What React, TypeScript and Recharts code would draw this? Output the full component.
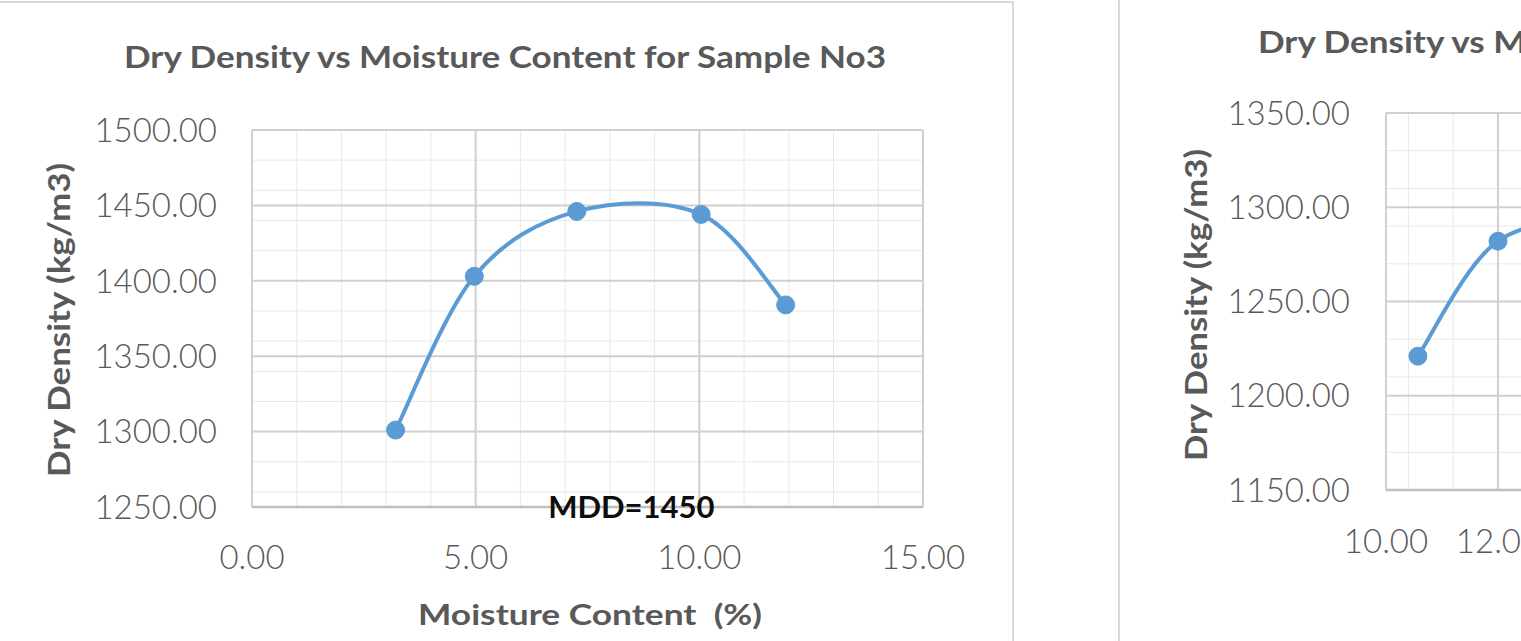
import React from 'react';
import { LineChart, Line, XAxis, YAxis, CartesianGrid, ReferenceDot } from 'recharts';

// ---- Sample No3 (left chart) ----
const moistureNo3 = [3.21, 4.97, 7.26, 10.04, 11.93];
const densityNo3 = [1301, 1403, 1446, 1444, 1384];
const xTicksNo3 = [0, 5, 10, 15];
const yTicksNo3 = [1250, 1300, 1350, 1400, 1450, 1500];
const mddLabel = 'MDD=1450';
const mddPosition = { x: 8.48, y: 1250 };

// ---- Sample No4 (right chart, cropped) ----
const moistureNo4 = [10.57, 12.0, 14.0, 16.0];
const densityNo4 = [1221, 1282, 1290, 1262];
const xTicksNo4 = [10, 12, 14, 16, 18, 20];
const yTicksNo4 = [1150, 1200, 1250, 1300, 1350];

const titleNo3 = 'Dry Density vs Moisture Content for Sample No3';
const titleNo4 = 'Dry Density vs Moisture Content for Sample No4';
const yLabel = 'Dry Density (kg/m3)';
const xLabel = 'Moisture Content  (%)';

const range = (a: number, b: number, s: number) => {
  const out: number[] = [];
  for (let i = 0; a + i * s <= b + 1e-9; i++) out.push(+(a + i * s).toFixed(4));
  return out;
};
const minorXNo3 = range(0, 15, 1);
const minorYNo3 = range(1250, 1500, 10);
const minorXNo4 = range(10, 20, 0.4);
const minorYNo4 = range(1150, 1350, 10);

const dataNo3 = moistureNo3.map((x, i) => ({ x, y: densityNo3[i] }));
const dataNo4 = moistureNo4.map((x, i) => ({ x, y: densityNo4[i] }));

// Excel-like smoothed line (Catmull-Rom as cubic Bezier)
const excelSmooth = (context: any) => {
  let pts: number[][] = [];
  return {
    areaStart() {},
    areaEnd() {},
    lineStart() {
      pts = [];
    },
    point(x: number, y: number) {
      pts.push([+x, +y]);
    },
    lineEnd() {
      const n = pts.length;
      if (!n) return;
      context.moveTo(pts[0][0], pts[0][1]);
      for (let i = 0; i < n - 1; i++) {
        const p0 = pts[Math.max(i - 1, 0)];
        const p1 = pts[i];
        const p2 = pts[i + 1];
        const p3 = pts[Math.min(i + 2, n - 1)];
        const c1x = p1[0] + (p2[0] - p0[0]) / 6;
        const c1y = p1[1] + (p2[1] - p0[1]) / 6;
        const c2x = p2[0] - (p3[0] - p1[0]) / 6;
        const c2y = p2[1] - (p3[1] - p1[1]) / 6;
        context.bezierCurveTo(c1x, c1y, c2x, c2y, p2[0], p2[1]);
      }
    },
  };
};

const FONT = 'Lato, "Open Sans", sans-serif';
const BLUE = '#5B9BD5';
const GREY = '#595959';
const tickStyle = { fill: GREY, fontSize: 33, fontFamily: FONT, fontWeight: 300 };

export default function App() {
  return (
    <div
      style={{
        position: 'absolute',
        left: 0,
        top: 0,
        width: 1521,
        height: 641,
        overflow: 'hidden',
        background: '#ffffff',
      }}
    >
      {/* frames */}
      <div
        style={{
          position: 'absolute',
          left: -2,
          top: 1,
          width: 1016,
          height: 700,
          border: '2px solid #d9d9d9',
          boxSizing: 'border-box',
        }}
      />
      <div
        style={{
          position: 'absolute',
          left: 1118,
          top: -5,
          width: 1000,
          height: 700,
          border: '2px solid #d9d9d9',
          boxSizing: 'border-box',
        }}
      />

      {/* Left chart */}
      <div style={{ position: 'absolute', left: 0, top: 0 }}>
        <LineChart width={1013} height={641} data={dataNo3} margin={{ top: 130, right: 90, bottom: 74, left: 0 }}>
          <CartesianGrid horizontalValues={minorYNo3} verticalValues={minorXNo3} stroke="#e8e8e8" strokeWidth={1} />
          <CartesianGrid horizontalValues={yTicksNo3} verticalValues={xTicksNo3} stroke="#d0d0d0" strokeWidth={2} />
          <XAxis
            dataKey="x"
            type="number"
            domain={[0, 15]}
            ticks={xTicksNo3}
            tickFormatter={(v: number) => v.toFixed(2)}
            tick={tickStyle}
            tickLine={false}
            tickSize={0}
            tickMargin={39}
            height={60}
            axisLine={{ stroke: '#bfbfbf', strokeWidth: 2.5 }}
          />
          <YAxis
            type="number"
            domain={[1250, 1500]}
            ticks={yTicksNo3}
            tickFormatter={(v: number) => v.toFixed(2)}
            tick={tickStyle}
            tickLine={false}
            tickSize={0}
            tickMargin={35}
            width={252}
            axisLine={false}
          />
          <Line
            dataKey="y"
            type={excelSmooth as any}
            stroke={BLUE}
            strokeWidth={4}
            dot={{ r: 9, fill: BLUE, stroke: BLUE, strokeWidth: 1 }}
            activeDot={false}
            isAnimationActive={false}
          />
          <ReferenceDot
            x={mddPosition.x}
            y={mddPosition.y}
            r={0}
            ifOverflow="visible"
            label={{
              value: mddLabel,
              position: 'center',
              fill: '#0d0d0d',
              fontSize: 31,
              fontWeight: 700,
              fontFamily: FONT,
            }}
          />
        </LineChart>
      </div>

      {/* Right chart (cropped) */}
      <div style={{ position: 'absolute', left: 1119, top: 0 }}>
        <LineChart width={1000} height={641} data={dataNo4} margin={{ top: 113, right: 173, bottom: 91, left: 0 }}>
          <CartesianGrid horizontalValues={minorYNo4} verticalValues={minorXNo4} stroke="#e8e8e8" strokeWidth={1} />
          <CartesianGrid horizontalValues={yTicksNo4} verticalValues={xTicksNo4} stroke="#d0d0d0" strokeWidth={2} />
          <XAxis
            dataKey="x"
            type="number"
            domain={[10, 20]}
            ticks={xTicksNo4}
            tickFormatter={(v: number) => v.toFixed(2)}
            tick={tickStyle}
            tickLine={false}
            tickSize={0}
            tickMargin={40}
            height={60}
            axisLine={{ stroke: '#bfbfbf', strokeWidth: 2.5 }}
          />
          <YAxis
            type="number"
            domain={[1150, 1350]}
            ticks={yTicksNo4}
            tickFormatter={(v: number) => v.toFixed(2)}
            tick={tickStyle}
            tickLine={false}
            tickSize={0}
            tickMargin={36}
            width={267}
            axisLine={false}
          />
          <Line
            dataKey="y"
            type={excelSmooth as any}
            stroke={BLUE}
            strokeWidth={4}
            dot={{ r: 9, fill: BLUE, stroke: BLUE, strokeWidth: 1 }}
            activeDot={false}
            isAnimationActive={false}
          />
        </LineChart>
      </div>

      {/* Titles and axis labels */}
      <svg
        width={1521}
        height={641}
        style={{ position: 'absolute', left: 0, top: 0, pointerEvents: 'none' }}
      >
        <text
          x={505}
          y={68}
          textAnchor="middle"
          fontFamily={FONT}
          fontWeight={700}
          fontSize={30}
          fill={GREY}
          textLength={762}
          lengthAdjust="spacingAndGlyphs"
        >
          {titleNo3}
        </text>
        <text
          x={70}
          y={320}
          transform="rotate(-90 70 320)"
          textAnchor="middle"
          fontFamily={FONT}
          fontWeight={700}
          fontSize={30}
          fill={GREY}
          textLength={314}
          lengthAdjust="spacingAndGlyphs"
        >
          {yLabel}
        </text>
        <text
          x={590}
          y={625}
          textAnchor="middle"
          fontFamily={FONT}
          fontWeight={700}
          fontSize={28}
          fill={GREY}
          textLength={344}
          lengthAdjust="spacingAndGlyphs"
          style={{ whiteSpace: 'pre' }}
        >
          {xLabel}
        </text>
        <text
          x={0}
          y={0}
          transform="translate(1258 53) scale(1.17 1)"
          textAnchor="start"
          fontFamily={FONT}
          fontWeight={700}
          fontSize={30}
          fill={GREY}
        >
          {titleNo4}
        </text>
        <text
          x={1207}
          y={305}
          transform="rotate(-90 1207 305)"
          textAnchor="middle"
          fontFamily={FONT}
          fontWeight={700}
          fontSize={30}
          fill={GREY}
          textLength={312}
          lengthAdjust="spacingAndGlyphs"
        >
          {yLabel}
        </text>
      </svg>
    </div>
  );
}
